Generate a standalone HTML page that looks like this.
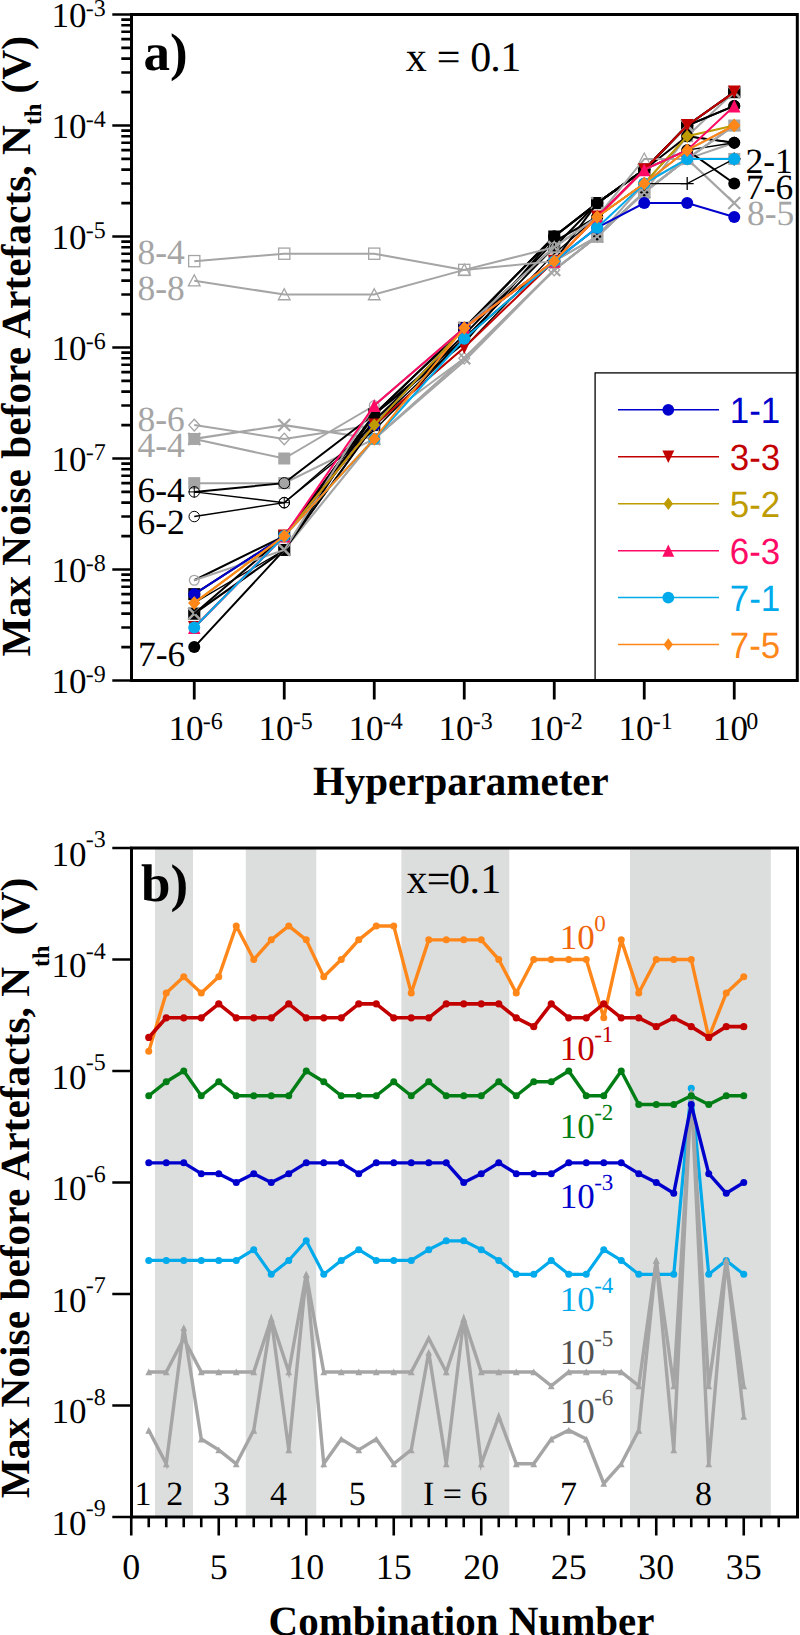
<!DOCTYPE html><html><head><meta charset="utf-8"><title>Max Noise before Artefacts</title>
<style>html,body{margin:0;padding:0;background:#fff;}svg{display:block;}</style></head><body>
<svg width="800" height="1635" viewBox="0 0 800 1635" text-rendering="geometricPrecision">
<rect width="800" height="1635" fill="#fff"/>
<g id="panel-a">
<defs><clipPath id="ca"><rect x="131.5" y="14.5" width="665.8" height="666.0"/></clipPath>
<clipPath id="cb"><rect x="131.5" y="848.0" width="666.0" height="669.0"/></clipPath></defs>
<g clip-path="url(#ca)">
<polyline points="194.25,438.95 284.25,458.5 374.25,405.54 464.25,327.95 554.25,261.13 597.19,236.5 644.25,192.33 687.19,158.91 734.25,125.5" fill="none" stroke="#a5a5a5" stroke-width="2.0" />
<rect x="188.25" y="432.95" width="12" height="12" fill="#a5a5a5"/>
<rect x="278.25" y="452.5" width="12" height="12" fill="#a5a5a5"/>
<rect x="458.25" y="321.95" width="12" height="12" fill="#a5a5a5"/>
<rect x="548.25" y="255.13" width="12" height="12" fill="#a5a5a5"/>
<rect x="591.19" y="230.5" width="12" height="12" fill="#a5a5a5"/>
<rect x="638.25" y="186.33" width="12" height="12" fill="#a5a5a5"/>
<rect x="681.19" y="152.91" width="12" height="12" fill="#a5a5a5"/>
<rect x="728.25" y="119.5" width="12" height="12" fill="#a5a5a5"/>
<polyline points="194.25,483.13 284.25,483.13 374.25,438.95 464.25,361.37 554.25,269.91 597.19,236.5 644.25,192.33 687.19,136.26 734.25,92.09" fill="none" stroke="#a5a5a5" stroke-width="2.0" />
<rect x="188.25" y="477.13" width="12" height="12" fill="#a5a5a5"/>
<rect x="278.25" y="477.13" width="12" height="12" fill="#a5a5a5"/>
<rect x="368.25" y="432.95" width="12" height="12" fill="#a5a5a5"/>
<rect x="591.19" y="230.5" width="12" height="12" fill="#a5a5a5"/>
<rect x="638.25" y="186.33" width="12" height="12" fill="#a5a5a5"/>
<rect x="681.19" y="130.26" width="12" height="12" fill="#a5a5a5"/>
<rect x="728.25" y="86.09" width="12" height="12" fill="#a5a5a5"/>
<polyline points="194.25,425.09 284.25,438.95 374.25,425.09 464.25,358.26 554.25,269.91 597.19,236.5 644.25,192.33 687.19,158.91 734.25,142.69" fill="none" stroke="#a5a5a5" stroke-width="2.0" />
<path d="M194.25 419.24L199.63 425.09L194.25 430.94L188.87 425.09Z" fill="none" stroke="#a5a5a5" stroke-width="1.3"/>
<path d="M284.25 433.1L289.63 438.95L284.25 444.8L278.87 438.95Z" fill="none" stroke="#a5a5a5" stroke-width="1.3"/>
<path d="M374.25 419.24L379.63 425.09L374.25 430.94L368.87 425.09Z" fill="none" stroke="#a5a5a5" stroke-width="1.3"/>
<path d="M464.25 352.41L469.63 358.26L464.25 364.11L458.87 358.26Z" fill="none" stroke="#a5a5a5" stroke-width="1.3"/>
<path d="M554.25 264.06L559.63 269.91L554.25 275.76L548.87 269.91Z" fill="none" stroke="#a5a5a5" stroke-width="1.3"/>
<path d="M597.19 230.65L602.57 236.5L597.19 242.35L591.81 236.5Z" fill="none" stroke="#a5a5a5" stroke-width="1.3"/>
<path d="M644.25 186.48L649.63 192.33L644.25 198.18L638.87 192.33Z" fill="none" stroke="#a5a5a5" stroke-width="1.3"/>
<path d="M687.19 153.06L692.57 158.91L687.19 164.76L681.81 158.91Z" fill="none" stroke="#a5a5a5" stroke-width="1.3"/>
<path d="M734.25 136.84L739.63 142.69L734.25 148.54L728.87 142.69Z" fill="none" stroke="#a5a5a5" stroke-width="1.3"/>
<polyline points="194.25,438.95 284.25,425.09 374.25,438.95 464.25,358.26 554.25,269.91 597.19,236.5 644.25,192.33 687.19,158.91 734.25,203.09" fill="none" stroke="#a5a5a5" stroke-width="2.2" />
<path d="M188.25 432.95L200.25 444.95M200.25 432.95L188.25 444.95" stroke="#a5a5a5" stroke-width="2.2"/>
<path d="M278.25 419.09L290.25 431.09M290.25 419.09L278.25 431.09" stroke="#a5a5a5" stroke-width="2.2"/>
<path d="M368.25 432.95L380.25 444.95M380.25 432.95L368.25 444.95" stroke="#a5a5a5" stroke-width="2.2"/>
<path d="M458.25 352.26L470.25 364.26M470.25 352.26L458.25 364.26" stroke="#a5a5a5" stroke-width="2.2"/>
<path d="M548.25 263.91L560.25 275.91M560.25 263.91L548.25 275.91" stroke="#a5a5a5" stroke-width="2.2"/>
<path d="M591.19 230.5L603.19 242.5M603.19 230.5L591.19 242.5" stroke="#a5a5a5" stroke-width="2.2"/>
<path d="M638.25 186.33L650.25 198.33M650.25 186.33L638.25 198.33" stroke="#a5a5a5" stroke-width="2.2"/>
<path d="M681.19 152.91L693.19 164.91M693.19 152.91L681.19 164.91" stroke="#a5a5a5" stroke-width="2.2"/>
<path d="M728.25 197.09L740.25 209.09M740.25 197.09L728.25 209.09" stroke="#a5a5a5" stroke-width="2.2"/>
<polyline points="194.25,613.67 284.25,549.95 374.25,438.95 464.25,358.26 554.25,269.91 597.19,236.5 644.25,192.33 687.19,158.91 734.25,158.91" fill="none" stroke="#a5a5a5" stroke-width="2.2" />
<rect x="188.25" y="607.67" width="12" height="12" fill="#a5a5a5"/>
<circle cx="191.45" cy="613.67" r="1.2" fill="#000"/>
<circle cx="197.05" cy="613.67" r="1.2" fill="#000"/>
<circle cx="194.25" cy="610.87" r="1.2" fill="#000"/>
<circle cx="194.25" cy="616.47" r="1.2" fill="#000"/>
<rect x="278.25" y="543.95" width="12" height="12" fill="#a5a5a5"/>
<circle cx="281.45" cy="549.95" r="1.2" fill="#000"/>
<circle cx="287.05" cy="549.95" r="1.2" fill="#000"/>
<circle cx="284.25" cy="547.15" r="1.2" fill="#000"/>
<circle cx="284.25" cy="552.75" r="1.2" fill="#000"/>
<rect x="591.19" y="230.5" width="12" height="12" fill="#a5a5a5"/>
<circle cx="594.39" cy="236.5" r="1.2" fill="#000"/>
<circle cx="599.99" cy="236.5" r="1.2" fill="#000"/>
<circle cx="597.19" cy="233.7" r="1.2" fill="#000"/>
<circle cx="597.19" cy="239.3" r="1.2" fill="#000"/>
<rect x="638.25" y="186.33" width="12" height="12" fill="#a5a5a5"/>
<circle cx="641.45" cy="192.33" r="1.2" fill="#000"/>
<circle cx="647.05" cy="192.33" r="1.2" fill="#000"/>
<circle cx="644.25" cy="189.53" r="1.2" fill="#000"/>
<circle cx="644.25" cy="195.13" r="1.2" fill="#000"/>
<rect x="681.19" y="152.91" width="12" height="12" fill="#a5a5a5"/>
<circle cx="684.39" cy="158.91" r="1.2" fill="#000"/>
<circle cx="689.99" cy="158.91" r="1.2" fill="#000"/>
<circle cx="687.19" cy="156.11" r="1.2" fill="#000"/>
<circle cx="687.19" cy="161.71" r="1.2" fill="#000"/>
<rect x="728.25" y="152.91" width="12" height="12" fill="#a5a5a5"/>
<circle cx="731.45" cy="158.91" r="1.2" fill="#000"/>
<circle cx="737.05" cy="158.91" r="1.2" fill="#000"/>
<circle cx="734.25" cy="156.11" r="1.2" fill="#000"/>
<circle cx="734.25" cy="161.71" r="1.2" fill="#000"/>
<polyline points="194.25,491.91 284.25,483.13 374.25,414.33 464.25,327.95 554.25,236.5 597.19,203.09 644.25,169.67 687.19,125.5 734.25,105.95" fill="none" stroke="#000" stroke-width="2.0" />
<circle cx="284.25" cy="483.13" r="5.5" fill="#a5a5a5" stroke="#000" stroke-width="1"/>
<circle cx="374.25" cy="414.33" r="5.5" fill="#a5a5a5" stroke="#000" stroke-width="1"/>
<circle cx="464.25" cy="327.95" r="5.5" fill="#a5a5a5" stroke="#000" stroke-width="1"/>
<circle cx="554.25" cy="236.5" r="5.5" fill="#a5a5a5" stroke="#000" stroke-width="1"/>
<circle cx="597.19" cy="203.09" r="5.5" fill="#a5a5a5" stroke="#000" stroke-width="1"/>
<circle cx="644.25" cy="169.67" r="5.5" fill="#a5a5a5" stroke="#000" stroke-width="1"/>
<circle cx="687.19" cy="125.5" r="5.5" fill="#a5a5a5" stroke="#000" stroke-width="1"/>
<circle cx="734.25" cy="105.95" r="5.5" fill="#a5a5a5" stroke="#000" stroke-width="1"/>
<polyline points="194.25,580.26 284.25,536.09 374.25,414.33 464.25,342.91 554.25,236.5 597.19,203.09 644.25,169.67 687.19,125.5 734.25,105.95" fill="none" stroke="#000" stroke-width="2.0" />
<circle cx="284.25" cy="536.09" r="6" fill="#000"/>
<circle cx="554.25" cy="236.5" r="6" fill="#000"/>
<circle cx="597.19" cy="203.09" r="6" fill="#000"/>
<circle cx="644.25" cy="169.67" r="6" fill="#000"/>
<circle cx="687.19" cy="125.5" r="6" fill="#000"/>
<circle cx="734.25" cy="105.95" r="6" fill="#000"/>
<polyline points="194.25,594.13 284.25,536.09 374.25,414.33 464.25,327.95 554.25,236.5 597.19,203.09 644.25,169.67 687.19,125.5 734.25,92.09" fill="none" stroke="#000" stroke-width="2.0" />
<rect x="188.25" y="588.13" width="12" height="12" fill="#000"/>
<rect x="278.25" y="530.09" width="12" height="12" fill="#000"/>
<rect x="368.25" y="408.33" width="12" height="12" fill="#000"/>
<rect x="458.25" y="321.95" width="12" height="12" fill="#000"/>
<rect x="548.25" y="230.5" width="12" height="12" fill="#000"/>
<rect x="591.19" y="197.09" width="12" height="12" fill="#000"/>
<rect x="638.25" y="163.67" width="12" height="12" fill="#000"/>
<rect x="681.19" y="119.5" width="12" height="12" fill="#000"/>
<rect x="728.25" y="86.09" width="12" height="12" fill="#000"/>
<polyline points="194.25,613.67 284.25,549.95 374.25,425.09 464.25,327.95 554.25,247.26 597.19,203.09 644.25,169.67 687.19,125.5 734.25,92.09" fill="none" stroke="#000" stroke-width="2.0" />
<rect x="188.25" y="607.67" width="12" height="12" fill="#000"/>
<path d="M188.25 607.67L200.25 619.67M200.25 607.67L188.25 619.67" stroke="#a5a5a5" stroke-width="2.6"/>
<rect x="278.25" y="543.95" width="12" height="12" fill="#000"/>
<path d="M278.25 543.95L290.25 555.95M290.25 543.95L278.25 555.95" stroke="#a5a5a5" stroke-width="2.6"/>
<rect x="368.25" y="419.09" width="12" height="12" fill="#000"/>
<path d="M368.25 419.09L380.25 431.09M380.25 419.09L368.25 431.09" stroke="#a5a5a5" stroke-width="2.6"/>
<rect x="458.25" y="321.95" width="12" height="12" fill="#000"/>
<path d="M458.25 321.95L470.25 333.95M470.25 321.95L458.25 333.95" stroke="#a5a5a5" stroke-width="2.6"/>
<rect x="548.25" y="241.26" width="12" height="12" fill="#000"/>
<path d="M548.25 241.26L560.25 253.26M560.25 241.26L548.25 253.26" stroke="#a5a5a5" stroke-width="2.6"/>
<rect x="591.19" y="197.09" width="12" height="12" fill="#000"/>
<path d="M591.19 197.09L603.19 209.09M603.19 197.09L591.19 209.09" stroke="#a5a5a5" stroke-width="2.6"/>
<rect x="638.25" y="163.67" width="12" height="12" fill="#000"/>
<path d="M638.25 163.67L650.25 175.67M650.25 163.67L638.25 175.67" stroke="#a5a5a5" stroke-width="2.6"/>
<rect x="681.19" y="119.5" width="12" height="12" fill="#000"/>
<path d="M681.19 119.5L693.19 131.5M693.19 119.5L681.19 131.5" stroke="#a5a5a5" stroke-width="2.6"/>
<rect x="728.25" y="86.09" width="12" height="12" fill="#000"/>
<path d="M728.25 86.09L740.25 98.09M740.25 86.09L728.25 98.09" stroke="#a5a5a5" stroke-width="2.6"/>
<polyline points="194.25,516.54 284.25,502.67 374.25,430.16 464.25,338.71 554.25,247.26 597.19,216.95 644.25,183.54 687.19,136.26 734.25,142.69" fill="none" stroke="#000" stroke-width="1.4" />
<circle cx="194.25" cy="516.54" r="5.25" fill="none" stroke="#000" stroke-width="1.0"/>
<circle cx="284.25" cy="502.67" r="5.25" fill="none" stroke="#000" stroke-width="1.0"/>
<circle cx="374.25" cy="430.16" r="5.25" fill="none" stroke="#000" stroke-width="1.0"/>
<circle cx="464.25" cy="338.71" r="5.25" fill="none" stroke="#000" stroke-width="1.0"/>
<circle cx="554.25" cy="247.26" r="5.25" fill="none" stroke="#000" stroke-width="1.0"/>
<circle cx="597.19" cy="216.95" r="5.25" fill="none" stroke="#000" stroke-width="1.0"/>
<circle cx="644.25" cy="183.54" r="5.25" fill="none" stroke="#000" stroke-width="1.0"/>
<circle cx="687.19" cy="136.26" r="5.25" fill="none" stroke="#000" stroke-width="1.0"/>
<circle cx="734.25" cy="142.69" r="5.25" fill="none" stroke="#000" stroke-width="1.0"/>
<polyline points="194.25,491.91 284.25,502.67 374.25,425.09 464.25,338.71 554.25,247.26 597.19,216.95 644.25,183.54 687.19,150.13 734.25,142.69" fill="none" stroke="#000" stroke-width="1.4" />
<circle cx="194.25" cy="491.91" r="5.25" fill="none" stroke="#000" stroke-width="1.0"/>
<path d="M188.5 491.91H200M194.25 486.16V497.66" stroke="#000" stroke-width="1.0"/>
<circle cx="284.25" cy="502.67" r="5.25" fill="none" stroke="#000" stroke-width="1.0"/>
<path d="M278.5 502.67H290M284.25 496.92V508.42" stroke="#000" stroke-width="1.0"/>
<circle cx="374.25" cy="425.09" r="5.25" fill="none" stroke="#000" stroke-width="1.0"/>
<path d="M368.5 425.09H380M374.25 419.34V430.84" stroke="#000" stroke-width="1.0"/>
<circle cx="464.25" cy="338.71" r="5.25" fill="none" stroke="#000" stroke-width="1.0"/>
<path d="M458.5 338.71H470M464.25 332.96V344.46" stroke="#000" stroke-width="1.0"/>
<circle cx="554.25" cy="247.26" r="5.25" fill="none" stroke="#000" stroke-width="1.0"/>
<path d="M548.5 247.26H560M554.25 241.51V253.01" stroke="#000" stroke-width="1.0"/>
<circle cx="597.19" cy="216.95" r="5.25" fill="none" stroke="#000" stroke-width="1.0"/>
<path d="M591.44 216.95H602.94M597.19 211.2V222.7" stroke="#000" stroke-width="1.0"/>
<circle cx="644.25" cy="183.54" r="5.25" fill="none" stroke="#000" stroke-width="1.0"/>
<path d="M638.5 183.54H650M644.25 177.79V189.29" stroke="#000" stroke-width="1.0"/>
<circle cx="687.19" cy="150.13" r="5.25" fill="none" stroke="#000" stroke-width="1.0"/>
<path d="M681.44 150.13H692.94M687.19 144.38V155.88" stroke="#000" stroke-width="1.0"/>
<circle cx="734.25" cy="142.69" r="5.25" fill="none" stroke="#000" stroke-width="1.0"/>
<path d="M728.5 142.69H740M734.25 136.94V148.44" stroke="#000" stroke-width="1.0"/>
<polyline points="194.25,602.91 284.25,549.95 374.25,425.09 464.25,347.5 554.25,253.69 597.19,216.95 644.25,183.54 687.19,183.54 734.25,158.91" fill="none" stroke="#000" stroke-width="1.3" />
<path d="M680.69 183.54H693.69M687.19 177.04V190.04" stroke="#000" stroke-width="1.3"/>
<path d="M727.75 158.91H740.75M734.25 152.41V165.41" stroke="#000" stroke-width="1.3"/>
<polyline points="194.25,613.67 284.25,536.09 374.25,420.49 464.25,334.85 554.25,241.58 597.19,216.95 644.25,169.67 687.19,136.26 734.25,142.69" fill="none" stroke="#000" stroke-width="2.0" />
<circle cx="597.19" cy="216.95" r="6" fill="#000"/>
<circle cx="644.25" cy="169.67" r="6" fill="#000"/>
<circle cx="687.19" cy="136.26" r="6" fill="#000"/>
<circle cx="734.25" cy="142.69" r="6" fill="#000"/>
<polyline points="194.25,647.09 284.25,549.95 374.25,414.33 464.25,338.71 554.25,261.13 597.19,203.09 644.25,169.67 687.19,150.13 734.25,183.54" fill="none" stroke="#000" stroke-width="2.0" />
<circle cx="194.25" cy="647.09" r="6" fill="#000"/>
<circle cx="464.25" cy="338.71" r="6" fill="#000"/>
<circle cx="554.25" cy="261.13" r="6" fill="#000"/>
<circle cx="597.19" cy="203.09" r="6" fill="#000"/>
<circle cx="644.25" cy="169.67" r="6" fill="#000"/>
<circle cx="687.19" cy="150.13" r="6" fill="#000"/>
<circle cx="734.25" cy="183.54" r="6" fill="#000"/>
<polyline points="194.25,580.26 284.25,549.95 374.25,405.54 464.25,327.95 554.25,247.26 597.19,216.95 644.25,169.67 687.19,150.13 734.25,125.5" fill="none" stroke="#a5a5a5" stroke-width="2.0" />
<circle cx="194.25" cy="580.26" r="4.85" fill="none" stroke="#a5a5a5" stroke-width="1.3"/>
<circle cx="374.25" cy="405.54" r="4.85" fill="none" stroke="#a5a5a5" stroke-width="1.3"/>
<circle cx="464.25" cy="327.95" r="4.85" fill="none" stroke="#a5a5a5" stroke-width="1.3"/>
<circle cx="554.25" cy="247.26" r="4.85" fill="none" stroke="#a5a5a5" stroke-width="1.3"/>
<polyline points="194.25,261.13 284.25,253.69 374.25,253.69 464.25,269.91 554.25,261.13 597.19,236.5 644.25,183.54 687.19,158.91 734.25,125.5" fill="none" stroke="#a5a5a5" stroke-width="2.0" />
<rect x="188.65" y="255.53" width="11.2" height="11.2" fill="none" stroke="#a5a5a5" stroke-width="1.3"/>
<rect x="278.65" y="248.09" width="11.2" height="11.2" fill="none" stroke="#a5a5a5" stroke-width="1.3"/>
<rect x="368.65" y="248.09" width="11.2" height="11.2" fill="none" stroke="#a5a5a5" stroke-width="1.3"/>
<rect x="458.65" y="264.31" width="11.2" height="11.2" fill="none" stroke="#a5a5a5" stroke-width="1.3"/>
<rect x="548.65" y="255.53" width="11.2" height="11.2" fill="none" stroke="#a5a5a5" stroke-width="1.3"/>
<polyline points="194.25,280.67 284.25,294.54 374.25,294.54 464.25,269.91 554.25,247.26 597.19,216.95 644.25,158.91 687.19,158.91 734.25,125.5" fill="none" stroke="#a5a5a5" stroke-width="2.0" />
<path d="M194.25 274.82L200.1 285.87L188.4 285.87Z" fill="none" stroke="#a5a5a5" stroke-width="1.3"/>
<path d="M284.25 288.69L290.1 299.74L278.4 299.74Z" fill="none" stroke="#a5a5a5" stroke-width="1.3"/>
<path d="M374.25 288.69L380.1 299.74L368.4 299.74Z" fill="none" stroke="#a5a5a5" stroke-width="1.3"/>
<path d="M464.25 264.06L470.1 275.11L458.4 275.11Z" fill="none" stroke="#a5a5a5" stroke-width="1.3"/>
<path d="M554.25 241.41L560.1 252.46L548.4 252.46Z" fill="none" stroke="#a5a5a5" stroke-width="1.3"/>
<path d="M597.19 211.1L603.04 222.15L591.34 222.15Z" fill="none" stroke="#a5a5a5" stroke-width="1.3"/>
<path d="M644.25 153.06L650.1 164.11L638.4 164.11Z" fill="none" stroke="#a5a5a5" stroke-width="1.3"/>
<path d="M687.19 153.06L693.04 164.11L681.34 164.11Z" fill="none" stroke="#a5a5a5" stroke-width="1.3"/>
<path d="M734.25 119.65L740.1 130.7L728.4 130.7Z" fill="none" stroke="#a5a5a5" stroke-width="1.3"/>
<polyline points="194.25,594.13 284.25,536.09 374.25,425.09 464.25,327.95 554.25,261.13 597.19,227.71 644.25,203.09 687.19,203.09 734.25,216.95" fill="none" stroke="#0000cd" stroke-width="2.0" />
<circle cx="194.25" cy="594.13" r="6" fill="#0000cd"/>
<circle cx="284.25" cy="536.09" r="6" fill="#0000cd"/>
<circle cx="374.25" cy="425.09" r="6" fill="#0000cd"/>
<circle cx="464.25" cy="327.95" r="6" fill="#0000cd"/>
<circle cx="554.25" cy="261.13" r="6" fill="#0000cd"/>
<circle cx="597.19" cy="227.71" r="6" fill="#0000cd"/>
<circle cx="644.25" cy="203.09" r="6" fill="#0000cd"/>
<circle cx="687.19" cy="203.09" r="6" fill="#0000cd"/>
<circle cx="734.25" cy="216.95" r="6" fill="#0000cd"/>
<polyline points="194.25,627.54 284.25,536.09 374.25,425.09 464.25,347.5 554.25,261.13 597.19,216.95 644.25,169.67 687.19,125.5 734.25,92.09" fill="none" stroke="#c30000" stroke-width="2.0" />
<path d="M194.25 634.04L200.49 621.04L188.01 621.04Z" fill="#c30000"/>
<path d="M284.25 542.59L290.49 529.59L278.01 529.59Z" fill="#c30000"/>
<path d="M374.25 431.59L380.49 418.59L368.01 418.59Z" fill="#c30000"/>
<path d="M464.25 354L470.49 341L458.01 341Z" fill="#c30000"/>
<path d="M554.25 267.63L560.49 254.63L548.01 254.63Z" fill="#c30000"/>
<path d="M597.19 223.45L603.43 210.45L590.95 210.45Z" fill="#c30000"/>
<path d="M644.25 176.17L650.49 163.17L638.01 163.17Z" fill="#c30000"/>
<path d="M687.19 132L693.43 119L680.95 119Z" fill="#c30000"/>
<path d="M734.25 98.59L740.49 85.59L728.01 85.59Z" fill="#c30000"/>
<polyline points="194.25,602.91 284.25,536.09 374.25,425.09 464.25,327.95 554.25,261.13 597.19,216.95 644.25,183.54 687.19,136.26 734.25,125.5" fill="none" stroke="#be9b00" stroke-width="2.0" />
<path d="M194.25 596.41L200.1 602.91L194.25 609.41L188.4 602.91Z" fill="#be9b00"/>
<path d="M284.25 529.59L290.1 536.09L284.25 542.59L278.4 536.09Z" fill="#be9b00"/>
<path d="M374.25 418.59L380.1 425.09L374.25 431.59L368.4 425.09Z" fill="#be9b00"/>
<path d="M464.25 321.45L470.1 327.95L464.25 334.45L458.4 327.95Z" fill="#be9b00"/>
<path d="M554.25 254.63L560.1 261.13L554.25 267.63L548.4 261.13Z" fill="#be9b00"/>
<path d="M597.19 210.45L603.04 216.95L597.19 223.45L591.34 216.95Z" fill="#be9b00"/>
<path d="M644.25 177.04L650.1 183.54L644.25 190.04L638.4 183.54Z" fill="#be9b00"/>
<path d="M687.19 129.76L693.04 136.26L687.19 142.76L681.34 136.26Z" fill="#be9b00"/>
<path d="M734.25 119L740.1 125.5L734.25 132L728.4 125.5Z" fill="#be9b00"/>
<polyline points="194.25,627.54 284.25,536.09 374.25,405.54 464.25,327.95 554.25,261.13 597.19,216.95 644.25,169.67 687.19,150.13 734.25,105.95" fill="none" stroke="#ff0a64" stroke-width="2.0" />
<path d="M194.25 621.04L200.49 634.04L188.01 634.04Z" fill="#ff0a64"/>
<path d="M284.25 529.59L290.49 542.59L278.01 542.59Z" fill="#ff0a64"/>
<path d="M374.25 399.04L380.49 412.04L368.01 412.04Z" fill="#ff0a64"/>
<path d="M464.25 321.45L470.49 334.45L458.01 334.45Z" fill="#ff0a64"/>
<path d="M554.25 254.63L560.49 267.63L548.01 267.63Z" fill="#ff0a64"/>
<path d="M597.19 210.45L603.43 223.45L590.95 223.45Z" fill="#ff0a64"/>
<path d="M644.25 163.17L650.49 176.17L638.01 176.17Z" fill="#ff0a64"/>
<path d="M687.19 143.63L693.43 156.63L680.95 156.63Z" fill="#ff0a64"/>
<path d="M734.25 99.45L740.49 112.45L728.01 112.45Z" fill="#ff0a64"/>
<polyline points="194.25,627.54 284.25,536.09 374.25,438.95 464.25,338.71 554.25,261.13 597.19,227.71 644.25,183.54 687.19,158.91 734.25,158.91" fill="none" stroke="#00aaeb" stroke-width="2.0" />
<circle cx="194.25" cy="627.54" r="6" fill="#00aaeb"/>
<circle cx="284.25" cy="536.09" r="6" fill="#00aaeb"/>
<circle cx="374.25" cy="438.95" r="6" fill="#00aaeb"/>
<circle cx="464.25" cy="338.71" r="6" fill="#00aaeb"/>
<circle cx="554.25" cy="261.13" r="6" fill="#00aaeb"/>
<circle cx="597.19" cy="227.71" r="6" fill="#00aaeb"/>
<circle cx="644.25" cy="183.54" r="6" fill="#00aaeb"/>
<circle cx="687.19" cy="158.91" r="6" fill="#00aaeb"/>
<circle cx="734.25" cy="158.91" r="6" fill="#00aaeb"/>
<polyline points="194.25,602.91 284.25,536.09 374.25,438.95 464.25,327.95 554.25,261.13 597.19,216.95 644.25,183.54 687.19,150.13 734.25,125.5" fill="none" stroke="#ff8719" stroke-width="2.0" />
<path d="M194.25 596.16L200.32 602.91L194.25 609.66L188.18 602.91Z" fill="#ff8719"/>
<path d="M284.25 529.34L290.32 536.09L284.25 542.84L278.18 536.09Z" fill="#ff8719"/>
<path d="M374.25 432.2L380.32 438.95L374.25 445.7L368.18 438.95Z" fill="#ff8719"/>
<path d="M464.25 321.2L470.32 327.95L464.25 334.7L458.18 327.95Z" fill="#ff8719"/>
<path d="M554.25 254.38L560.33 261.13L554.25 267.88L548.17 261.13Z" fill="#ff8719"/>
<path d="M597.19 210.2L603.27 216.95L597.19 223.7L591.12 216.95Z" fill="#ff8719"/>
<path d="M644.25 176.79L650.33 183.54L644.25 190.29L638.17 183.54Z" fill="#ff8719"/>
<path d="M687.19 143.38L693.27 150.13L687.19 156.88L681.12 150.13Z" fill="#ff8719"/>
<path d="M734.25 118.75L740.33 125.5L734.25 132.25L728.17 125.5Z" fill="#ff8719"/>
</g>
<text x="137.5" y="263.6" font-family="'Liberation Serif', 'Times New Roman', serif" font-size="35.5" fill="#a5a5a5" text-anchor="start" font-weight="normal" >8-4</text>
<text x="137.5" y="299.5" font-family="'Liberation Serif', 'Times New Roman', serif" font-size="35.5" fill="#a5a5a5" text-anchor="start" font-weight="normal" >8-8</text>
<text x="137.5" y="431" font-family="'Liberation Serif', 'Times New Roman', serif" font-size="35.5" fill="#a5a5a5" text-anchor="start" font-weight="normal" >8-6</text>
<text x="137.5" y="457.3" font-family="'Liberation Serif', 'Times New Roman', serif" font-size="35.5" fill="#a5a5a5" text-anchor="start" font-weight="normal" >4-4</text>
<text x="137.5" y="501.5" font-family="'Liberation Serif', 'Times New Roman', serif" font-size="35.5" fill="#000" text-anchor="start" font-weight="normal" >6-4</text>
<text x="137.5" y="533.9" font-family="'Liberation Serif', 'Times New Roman', serif" font-size="35.5" fill="#000" text-anchor="start" font-weight="normal" >6-2</text>
<text x="138" y="666.3" font-family="'Liberation Serif', 'Times New Roman', serif" font-size="35.5" fill="#000" text-anchor="start" font-weight="normal" >7-6</text>
<text x="745.5" y="172.5" font-family="'Liberation Serif', 'Times New Roman', serif" font-size="35.5" fill="#000" text-anchor="start" font-weight="normal" >2-1</text>
<text x="746" y="199" font-family="'Liberation Serif', 'Times New Roman', serif" font-size="35.5" fill="#000" text-anchor="start" font-weight="normal" >7-6</text>
<text x="747" y="225" font-family="'Liberation Serif', 'Times New Roman', serif" font-size="35.5" fill="#a5a5a5" text-anchor="start" font-weight="normal" >8-5</text>
<rect x="595.1" y="372.9" width="202.19999999999993" height="307.6" fill="white" stroke="#000" stroke-width="1.3"/>
<line x1="618" y1="409.8" x2="719" y2="409.8" stroke="#0000cd" stroke-width="1.5"/>
<circle cx="668.3" cy="409.8" r="5.9" fill="#0000cd"/>
<text transform="translate(729.7,422.9) scale(0.955,1)" font-family="'Liberation Sans', Arial, sans-serif" font-size="36.6" fill="#0000cd">1-1</text>
<line x1="618" y1="456.75" x2="719" y2="456.75" stroke="#c30000" stroke-width="1.5"/>
<path d="M668.3 462.95L674.25 450.55L662.35 450.55Z" fill="#c30000"/>
<text transform="translate(729.7,469.85) scale(0.955,1)" font-family="'Liberation Sans', Arial, sans-serif" font-size="36.6" fill="#c30000">3-3</text>
<line x1="618" y1="503.7" x2="719" y2="503.7" stroke="#be9b00" stroke-width="1.5"/>
<path d="M668.3 497.5L673.01 503.7L668.3 509.9L663.59 503.7Z" fill="#be9b00"/>
<text transform="translate(729.7,516.8) scale(0.955,1)" font-family="'Liberation Sans', Arial, sans-serif" font-size="36.6" fill="#be9b00">5-2</text>
<line x1="618" y1="550.65" x2="719" y2="550.65" stroke="#ff0a64" stroke-width="1.5"/>
<path d="M668.3 544.45L674.25 556.85L662.35 556.85Z" fill="#ff0a64"/>
<text transform="translate(729.7,563.75) scale(0.955,1)" font-family="'Liberation Sans', Arial, sans-serif" font-size="36.6" fill="#ff0a64">6-3</text>
<line x1="618" y1="597.6" x2="719" y2="597.6" stroke="#00aaeb" stroke-width="1.5"/>
<circle cx="668.3" cy="597.6" r="5.9" fill="#00aaeb"/>
<text transform="translate(729.7,610.7) scale(0.955,1)" font-family="'Liberation Sans', Arial, sans-serif" font-size="36.6" fill="#00aaeb">7-1</text>
<line x1="618" y1="644.55" x2="719" y2="644.55" stroke="#ff8719" stroke-width="1.5"/>
<path d="M668.3 638.35L673.01 644.55L668.3 650.75L663.59 644.55Z" fill="#ff8719"/>
<text transform="translate(729.7,657.65) scale(0.955,1)" font-family="'Liberation Sans', Arial, sans-serif" font-size="36.6" fill="#ff8719">7-5</text>
<rect x="131.5" y="14.5" width="665.8" height="666.0" fill="none" stroke="#000" stroke-width="3"/>
<path d="M112.3 680.5H131.5 M121.3 647.09H131.5 M121.3 627.54H131.5 M121.3 613.67H131.5 M121.3 602.91H131.5 M121.3 594.13H131.5 M121.3 586.69H131.5 M121.3 580.26H131.5 M121.3 574.58H131.5 M112.3 569.5H131.5 M121.3 536.09H131.5 M121.3 516.54H131.5 M121.3 502.67H131.5 M121.3 491.91H131.5 M121.3 483.13H131.5 M121.3 475.69H131.5 M121.3 469.26H131.5 M121.3 463.58H131.5 M112.3 458.5H131.5 M121.3 425.09H131.5 M121.3 405.54H131.5 M121.3 391.67H131.5 M121.3 380.91H131.5 M121.3 372.13H131.5 M121.3 364.69H131.5 M121.3 358.26H131.5 M121.3 352.58H131.5 M112.3 347.5H131.5 M121.3 314.09H131.5 M121.3 294.54H131.5 M121.3 280.67H131.5 M121.3 269.91H131.5 M121.3 261.13H131.5 M121.3 253.69H131.5 M121.3 247.26H131.5 M121.3 241.58H131.5 M112.3 236.5H131.5 M121.3 203.09H131.5 M121.3 183.54H131.5 M121.3 169.67H131.5 M121.3 158.91H131.5 M121.3 150.13H131.5 M121.3 142.69H131.5 M121.3 136.26H131.5 M121.3 130.58H131.5 M112.3 125.5H131.5 M121.3 92.09H131.5 M121.3 72.54H131.5 M121.3 58.67H131.5 M121.3 47.91H131.5 M121.3 39.13H131.5 M121.3 31.69H131.5 M121.3 25.26H131.5 M121.3 19.58H131.5 M112.3 14.5H131.5" stroke="#000" stroke-width="2.6"/>
<path d="M194.25 680.5V699.5 M284.25 680.5V699.5 M374.25 680.5V699.5 M464.25 680.5V699.5 M554.25 680.5V699.5 M644.25 680.5V699.5 M734.25 680.5V699.5" stroke="#000" stroke-width="2.8"/>
<text x="51.5" y="692.7" font-family="'Liberation Serif', 'Times New Roman', serif" font-size="35" fill="#000" text-anchor="start" font-weight="normal" >10</text>
<text x="85.8" y="681.7" font-family="'Liberation Serif', 'Times New Roman', serif" font-size="24" fill="#000" text-anchor="start" font-weight="normal" >-9</text>
<text x="51.5" y="581.7" font-family="'Liberation Serif', 'Times New Roman', serif" font-size="35" fill="#000" text-anchor="start" font-weight="normal" >10</text>
<text x="85.8" y="570.7" font-family="'Liberation Serif', 'Times New Roman', serif" font-size="24" fill="#000" text-anchor="start" font-weight="normal" >-8</text>
<text x="51.5" y="470.7" font-family="'Liberation Serif', 'Times New Roman', serif" font-size="35" fill="#000" text-anchor="start" font-weight="normal" >10</text>
<text x="85.8" y="459.7" font-family="'Liberation Serif', 'Times New Roman', serif" font-size="24" fill="#000" text-anchor="start" font-weight="normal" >-7</text>
<text x="51.5" y="359.7" font-family="'Liberation Serif', 'Times New Roman', serif" font-size="35" fill="#000" text-anchor="start" font-weight="normal" >10</text>
<text x="85.8" y="348.7" font-family="'Liberation Serif', 'Times New Roman', serif" font-size="24" fill="#000" text-anchor="start" font-weight="normal" >-6</text>
<text x="51.5" y="248.7" font-family="'Liberation Serif', 'Times New Roman', serif" font-size="35" fill="#000" text-anchor="start" font-weight="normal" >10</text>
<text x="85.8" y="237.7" font-family="'Liberation Serif', 'Times New Roman', serif" font-size="24" fill="#000" text-anchor="start" font-weight="normal" >-5</text>
<text x="51.5" y="137.7" font-family="'Liberation Serif', 'Times New Roman', serif" font-size="35" fill="#000" text-anchor="start" font-weight="normal" >10</text>
<text x="85.8" y="126.7" font-family="'Liberation Serif', 'Times New Roman', serif" font-size="24" fill="#000" text-anchor="start" font-weight="normal" >-4</text>
<text x="51.5" y="26.7" font-family="'Liberation Serif', 'Times New Roman', serif" font-size="35" fill="#000" text-anchor="start" font-weight="normal" >10</text>
<text x="85.8" y="15.7" font-family="'Liberation Serif', 'Times New Roman', serif" font-size="24" fill="#000" text-anchor="start" font-weight="normal" >-3</text>
<text x="168.45" y="739.5" font-family="'Liberation Serif', 'Times New Roman', serif" font-size="35" fill="#000" text-anchor="start" font-weight="normal" >10</text>
<text x="202.75" y="729" font-family="'Liberation Serif', 'Times New Roman', serif" font-size="24" fill="#000" text-anchor="start" font-weight="normal" >-6</text>
<text x="258.45" y="739.5" font-family="'Liberation Serif', 'Times New Roman', serif" font-size="35" fill="#000" text-anchor="start" font-weight="normal" >10</text>
<text x="292.75" y="729" font-family="'Liberation Serif', 'Times New Roman', serif" font-size="24" fill="#000" text-anchor="start" font-weight="normal" >-5</text>
<text x="348.45" y="739.5" font-family="'Liberation Serif', 'Times New Roman', serif" font-size="35" fill="#000" text-anchor="start" font-weight="normal" >10</text>
<text x="382.75" y="729" font-family="'Liberation Serif', 'Times New Roman', serif" font-size="24" fill="#000" text-anchor="start" font-weight="normal" >-4</text>
<text x="438.45" y="739.5" font-family="'Liberation Serif', 'Times New Roman', serif" font-size="35" fill="#000" text-anchor="start" font-weight="normal" >10</text>
<text x="472.75" y="729" font-family="'Liberation Serif', 'Times New Roman', serif" font-size="24" fill="#000" text-anchor="start" font-weight="normal" >-3</text>
<text x="528.45" y="739.5" font-family="'Liberation Serif', 'Times New Roman', serif" font-size="35" fill="#000" text-anchor="start" font-weight="normal" >10</text>
<text x="562.75" y="729" font-family="'Liberation Serif', 'Times New Roman', serif" font-size="24" fill="#000" text-anchor="start" font-weight="normal" >-2</text>
<text x="618.45" y="739.5" font-family="'Liberation Serif', 'Times New Roman', serif" font-size="35" fill="#000" text-anchor="start" font-weight="normal" >10</text>
<text x="652.75" y="729" font-family="'Liberation Serif', 'Times New Roman', serif" font-size="24" fill="#000" text-anchor="start" font-weight="normal" >-1</text>
<text x="712.95" y="739.5" font-family="'Liberation Serif', 'Times New Roman', serif" font-size="35" fill="#000" text-anchor="start" font-weight="normal" >10</text>
<text x="746.25" y="729" font-family="'Liberation Serif', 'Times New Roman', serif" font-size="24" fill="#000" text-anchor="start" font-weight="normal" >0</text>
<text x="165.5" y="69.8" font-family="'Liberation Serif', 'Times New Roman', serif" font-size="53" fill="#000" text-anchor="middle" font-weight="bold" >a)</text>
<text x="405.8 436.65 470.2 490.35 500.15" y="70.5" font-family="'Liberation Serif', 'Times New Roman', serif" font-size="42" fill="#000">x=0.1</text>
<text transform="translate(460.8,795.3) scale(0.985,1)" text-anchor="middle" font-family="'Liberation Serif', 'Times New Roman', serif" font-size="41.6" font-weight="bold" fill="#000">Hyperparameter</text>
<text transform="translate(29.8,656.5) rotate(-90)" font-family="'Liberation Serif', 'Times New Roman', serif" font-size="41.4" font-weight="bold" fill="#000">Max Noise before Artefacts, N<tspan font-size="24" dy="11.6">th</tspan><tspan dy="-11.6"> (V)</tspan></text>
</g>
<g id="panel-b">
<rect x="155" y="848.0" width="38" height="669.0" fill="#dcdddd"/>
<rect x="245.8" y="848.0" width="70.5" height="669.0" fill="#dcdddd"/>
<rect x="401.4" y="848.0" width="107.9" height="669.0" fill="#dcdddd"/>
<rect x="630" y="848.0" width="140.8" height="669.0" fill="#dcdddd"/>
<g clip-path="url(#cb)">
<polyline points="148.75,1260.44 166.25,1260.44 183.75,1260.44 201.25,1260.44 218.75,1260.44 236.25,1260.44 253.75,1249.63 271.25,1274.37 288.75,1260.44 306.25,1240.8 323.75,1274.37 341.25,1260.44 358.75,1249.63 376.25,1260.44 393.75,1260.44 411.25,1260.44 428.75,1249.63 446.25,1240.8 463.75,1240.8 481.25,1249.63 498.75,1260.44 516.25,1274.37 533.75,1274.37 551.25,1260.44 568.75,1274.37 586.25,1274.37 603.75,1249.63 621.25,1260.44 638.75,1274.37 656.25,1274.37 673.75,1274.37 691.25,1088.27 708.75,1274.37 726.25,1260.44 743.75,1274.37" fill="none" stroke="#00aaeb" stroke-width="3.2" stroke-linejoin="round"/>
<circle cx="148.75" cy="1260.44" r="3.5" fill="#00aaeb"/>
<circle cx="166.25" cy="1260.44" r="3.5" fill="#00aaeb"/>
<circle cx="183.75" cy="1260.44" r="3.5" fill="#00aaeb"/>
<circle cx="201.25" cy="1260.44" r="3.5" fill="#00aaeb"/>
<circle cx="218.75" cy="1260.44" r="3.5" fill="#00aaeb"/>
<circle cx="236.25" cy="1260.44" r="3.5" fill="#00aaeb"/>
<circle cx="253.75" cy="1249.63" r="3.5" fill="#00aaeb"/>
<circle cx="271.25" cy="1274.37" r="3.5" fill="#00aaeb"/>
<circle cx="288.75" cy="1260.44" r="3.5" fill="#00aaeb"/>
<circle cx="306.25" cy="1240.8" r="3.5" fill="#00aaeb"/>
<circle cx="323.75" cy="1274.37" r="3.5" fill="#00aaeb"/>
<circle cx="341.25" cy="1260.44" r="3.5" fill="#00aaeb"/>
<circle cx="358.75" cy="1249.63" r="3.5" fill="#00aaeb"/>
<circle cx="376.25" cy="1260.44" r="3.5" fill="#00aaeb"/>
<circle cx="393.75" cy="1260.44" r="3.5" fill="#00aaeb"/>
<circle cx="411.25" cy="1260.44" r="3.5" fill="#00aaeb"/>
<circle cx="428.75" cy="1249.63" r="3.5" fill="#00aaeb"/>
<circle cx="446.25" cy="1240.8" r="3.5" fill="#00aaeb"/>
<circle cx="463.75" cy="1240.8" r="3.5" fill="#00aaeb"/>
<circle cx="481.25" cy="1249.63" r="3.5" fill="#00aaeb"/>
<circle cx="498.75" cy="1260.44" r="3.5" fill="#00aaeb"/>
<circle cx="516.25" cy="1274.37" r="3.5" fill="#00aaeb"/>
<circle cx="533.75" cy="1274.37" r="3.5" fill="#00aaeb"/>
<circle cx="551.25" cy="1260.44" r="3.5" fill="#00aaeb"/>
<circle cx="568.75" cy="1274.37" r="3.5" fill="#00aaeb"/>
<circle cx="586.25" cy="1274.37" r="3.5" fill="#00aaeb"/>
<circle cx="603.75" cy="1249.63" r="3.5" fill="#00aaeb"/>
<circle cx="621.25" cy="1260.44" r="3.5" fill="#00aaeb"/>
<circle cx="638.75" cy="1274.37" r="3.5" fill="#00aaeb"/>
<circle cx="656.25" cy="1274.37" r="3.5" fill="#00aaeb"/>
<circle cx="673.75" cy="1274.37" r="3.5" fill="#00aaeb"/>
<circle cx="691.25" cy="1088.27" r="3.5" fill="#00aaeb"/>
<circle cx="708.75" cy="1274.37" r="3.5" fill="#00aaeb"/>
<circle cx="726.25" cy="1260.44" r="3.5" fill="#00aaeb"/>
<circle cx="743.75" cy="1274.37" r="3.5" fill="#00aaeb"/>
<polyline points="148.75,1430.24 166.25,1463.8 183.75,1327.56 201.25,1439.06 218.75,1449.87 236.25,1463.8 253.75,1430.24 271.25,1318.74 288.75,1449.87 306.25,1274.37 323.75,1463.8 341.25,1439.06 358.75,1449.87 376.25,1439.06 393.75,1463.8 411.25,1449.87 428.75,1352.3 446.25,1463.8 463.75,1318.74 481.25,1463.8 498.75,1416.31 516.25,1463.8 533.75,1463.8 551.25,1439.06 568.75,1430.24 586.25,1439.06 603.75,1483.44 621.25,1463.8 638.75,1430.24 656.25,1260.44 673.75,1449.87 691.25,1091.86 708.75,1463.8 726.25,1260.44 743.75,1416.31" fill="none" stroke="#a5a5a5" stroke-width="3.4" stroke-miterlimit="5"/>
<path d="M148.75 1426.84L152.15 1433.64L145.35 1433.64Z" fill="#a5a5a5"/>
<path d="M166.25 1460.4L169.65 1467.2L162.85 1467.2Z" fill="#a5a5a5"/>
<path d="M183.75 1324.16L187.15 1330.96L180.35 1330.96Z" fill="#a5a5a5"/>
<path d="M201.25 1435.66L204.65 1442.46L197.85 1442.46Z" fill="#a5a5a5"/>
<path d="M218.75 1446.47L222.15 1453.27L215.35 1453.27Z" fill="#a5a5a5"/>
<path d="M236.25 1460.4L239.65 1467.2L232.85 1467.2Z" fill="#a5a5a5"/>
<path d="M253.75 1426.84L257.15 1433.64L250.35 1433.64Z" fill="#a5a5a5"/>
<path d="M271.25 1315.34L274.65 1322.14L267.85 1322.14Z" fill="#a5a5a5"/>
<path d="M288.75 1446.47L292.15 1453.27L285.35 1453.27Z" fill="#a5a5a5"/>
<path d="M306.25 1270.97L309.65 1277.77L302.85 1277.77Z" fill="#a5a5a5"/>
<path d="M323.75 1460.4L327.15 1467.2L320.35 1467.2Z" fill="#a5a5a5"/>
<path d="M341.25 1435.66L344.65 1442.46L337.85 1442.46Z" fill="#a5a5a5"/>
<path d="M358.75 1446.47L362.15 1453.27L355.35 1453.27Z" fill="#a5a5a5"/>
<path d="M376.25 1435.66L379.65 1442.46L372.85 1442.46Z" fill="#a5a5a5"/>
<path d="M393.75 1460.4L397.15 1467.2L390.35 1467.2Z" fill="#a5a5a5"/>
<path d="M411.25 1446.47L414.65 1453.27L407.85 1453.27Z" fill="#a5a5a5"/>
<path d="M428.75 1348.9L432.15 1355.7L425.35 1355.7Z" fill="#a5a5a5"/>
<path d="M446.25 1460.4L449.65 1467.2L442.85 1467.2Z" fill="#a5a5a5"/>
<path d="M463.75 1315.34L467.15 1322.14L460.35 1322.14Z" fill="#a5a5a5"/>
<path d="M481.25 1460.4L484.65 1467.2L477.85 1467.2Z" fill="#a5a5a5"/>
<path d="M498.75 1412.91L502.15 1419.71L495.35 1419.71Z" fill="#a5a5a5"/>
<path d="M516.25 1460.4L519.65 1467.2L512.85 1467.2Z" fill="#a5a5a5"/>
<path d="M533.75 1460.4L537.15 1467.2L530.35 1467.2Z" fill="#a5a5a5"/>
<path d="M551.25 1435.66L554.65 1442.46L547.85 1442.46Z" fill="#a5a5a5"/>
<path d="M568.75 1426.84L572.15 1433.64L565.35 1433.64Z" fill="#a5a5a5"/>
<path d="M586.25 1435.66L589.65 1442.46L582.85 1442.46Z" fill="#a5a5a5"/>
<path d="M603.75 1480.04L607.15 1486.84L600.35 1486.84Z" fill="#a5a5a5"/>
<path d="M621.25 1460.4L624.65 1467.2L617.85 1467.2Z" fill="#a5a5a5"/>
<path d="M638.75 1426.84L642.15 1433.64L635.35 1433.64Z" fill="#a5a5a5"/>
<path d="M656.25 1257.04L659.65 1263.84L652.85 1263.84Z" fill="#a5a5a5"/>
<path d="M673.75 1446.47L677.15 1453.27L670.35 1453.27Z" fill="#a5a5a5"/>
<path d="M691.25 1088.46L694.65 1095.26L687.85 1095.26Z" fill="#a5a5a5"/>
<path d="M708.75 1460.4L712.15 1467.2L705.35 1467.2Z" fill="#a5a5a5"/>
<path d="M726.25 1257.04L729.65 1263.84L722.85 1263.84Z" fill="#a5a5a5"/>
<path d="M743.75 1412.91L747.15 1419.71L740.35 1419.71Z" fill="#a5a5a5"/>
<polyline points="148.75,1371.94 166.25,1371.94 183.75,1338.37 201.25,1371.94 218.75,1371.94 236.25,1371.94 253.75,1371.94 271.25,1318.74 288.75,1371.94 306.25,1274.37 323.75,1371.94 341.25,1371.94 358.75,1371.94 376.25,1371.94 393.75,1371.94 411.25,1371.94 428.75,1338.37 446.25,1371.94 463.75,1318.74 481.25,1371.94 498.75,1371.94 516.25,1371.94 533.75,1371.94 551.25,1385.87 568.75,1371.94 586.25,1371.94 603.75,1371.94 621.25,1371.94 638.75,1385.87 656.25,1260.44 673.75,1385.87 691.25,1091.86 708.75,1385.87 726.25,1260.44 743.75,1385.87" fill="none" stroke="#a5a5a5" stroke-width="3.4" stroke-miterlimit="5"/>
<path d="M148.75 1368.54L152.15 1375.34L145.35 1375.34Z" fill="#a5a5a5"/>
<path d="M166.25 1368.54L169.65 1375.34L162.85 1375.34Z" fill="#a5a5a5"/>
<path d="M183.75 1334.97L187.15 1341.77L180.35 1341.77Z" fill="#a5a5a5"/>
<path d="M201.25 1368.54L204.65 1375.34L197.85 1375.34Z" fill="#a5a5a5"/>
<path d="M218.75 1368.54L222.15 1375.34L215.35 1375.34Z" fill="#a5a5a5"/>
<path d="M236.25 1368.54L239.65 1375.34L232.85 1375.34Z" fill="#a5a5a5"/>
<path d="M253.75 1368.54L257.15 1375.34L250.35 1375.34Z" fill="#a5a5a5"/>
<path d="M271.25 1315.34L274.65 1322.14L267.85 1322.14Z" fill="#a5a5a5"/>
<path d="M288.75 1368.54L292.15 1375.34L285.35 1375.34Z" fill="#a5a5a5"/>
<path d="M306.25 1270.97L309.65 1277.77L302.85 1277.77Z" fill="#a5a5a5"/>
<path d="M323.75 1368.54L327.15 1375.34L320.35 1375.34Z" fill="#a5a5a5"/>
<path d="M341.25 1368.54L344.65 1375.34L337.85 1375.34Z" fill="#a5a5a5"/>
<path d="M358.75 1368.54L362.15 1375.34L355.35 1375.34Z" fill="#a5a5a5"/>
<path d="M376.25 1368.54L379.65 1375.34L372.85 1375.34Z" fill="#a5a5a5"/>
<path d="M393.75 1368.54L397.15 1375.34L390.35 1375.34Z" fill="#a5a5a5"/>
<path d="M411.25 1368.54L414.65 1375.34L407.85 1375.34Z" fill="#a5a5a5"/>
<path d="M428.75 1334.97L432.15 1341.77L425.35 1341.77Z" fill="#a5a5a5"/>
<path d="M446.25 1368.54L449.65 1375.34L442.85 1375.34Z" fill="#a5a5a5"/>
<path d="M463.75 1315.34L467.15 1322.14L460.35 1322.14Z" fill="#a5a5a5"/>
<path d="M481.25 1368.54L484.65 1375.34L477.85 1375.34Z" fill="#a5a5a5"/>
<path d="M498.75 1368.54L502.15 1375.34L495.35 1375.34Z" fill="#a5a5a5"/>
<path d="M516.25 1368.54L519.65 1375.34L512.85 1375.34Z" fill="#a5a5a5"/>
<path d="M533.75 1368.54L537.15 1375.34L530.35 1375.34Z" fill="#a5a5a5"/>
<path d="M551.25 1382.47L554.65 1389.27L547.85 1389.27Z" fill="#a5a5a5"/>
<path d="M568.75 1368.54L572.15 1375.34L565.35 1375.34Z" fill="#a5a5a5"/>
<path d="M586.25 1368.54L589.65 1375.34L582.85 1375.34Z" fill="#a5a5a5"/>
<path d="M603.75 1368.54L607.15 1375.34L600.35 1375.34Z" fill="#a5a5a5"/>
<path d="M621.25 1368.54L624.65 1375.34L617.85 1375.34Z" fill="#a5a5a5"/>
<path d="M638.75 1382.47L642.15 1389.27L635.35 1389.27Z" fill="#a5a5a5"/>
<path d="M656.25 1257.04L659.65 1263.84L652.85 1263.84Z" fill="#a5a5a5"/>
<path d="M673.75 1382.47L677.15 1389.27L670.35 1389.27Z" fill="#a5a5a5"/>
<path d="M691.25 1088.46L694.65 1095.26L687.85 1095.26Z" fill="#a5a5a5"/>
<path d="M708.75 1382.47L712.15 1389.27L705.35 1389.27Z" fill="#a5a5a5"/>
<path d="M726.25 1257.04L729.65 1263.84L722.85 1263.84Z" fill="#a5a5a5"/>
<path d="M743.75 1382.47L747.15 1389.27L740.35 1389.27Z" fill="#a5a5a5"/>
<polyline points="148.75,1051.37 166.25,993.06 183.75,976.77 201.25,993.06 218.75,976.77 236.25,925.94 253.75,959.5 271.25,939.87 288.75,925.94 306.25,939.87 323.75,976.77 341.25,959.5 358.75,939.87 376.25,925.94 393.75,925.94 411.25,993.06 428.75,939.87 446.25,939.87 463.75,939.87 481.25,939.87 498.75,959.5 516.25,993.06 533.75,959.5 551.25,959.5 568.75,959.5 586.25,959.5 603.75,1017.8 621.25,939.87 638.75,993.06 656.25,959.5 673.75,959.5 691.25,959.5 708.75,1037.44 726.25,993.06 743.75,976.77" fill="none" stroke="#ff8719" stroke-width="3.4" stroke-linejoin="round"/>
<circle cx="148.75" cy="1051.37" r="3.5" fill="#ff8719"/>
<circle cx="166.25" cy="993.06" r="3.5" fill="#ff8719"/>
<circle cx="183.75" cy="976.77" r="3.5" fill="#ff8719"/>
<circle cx="201.25" cy="993.06" r="3.5" fill="#ff8719"/>
<circle cx="218.75" cy="976.77" r="3.5" fill="#ff8719"/>
<circle cx="236.25" cy="925.94" r="3.5" fill="#ff8719"/>
<circle cx="253.75" cy="959.5" r="3.5" fill="#ff8719"/>
<circle cx="271.25" cy="939.87" r="3.5" fill="#ff8719"/>
<circle cx="288.75" cy="925.94" r="3.5" fill="#ff8719"/>
<circle cx="306.25" cy="939.87" r="3.5" fill="#ff8719"/>
<circle cx="323.75" cy="976.77" r="3.5" fill="#ff8719"/>
<circle cx="341.25" cy="959.5" r="3.5" fill="#ff8719"/>
<circle cx="358.75" cy="939.87" r="3.5" fill="#ff8719"/>
<circle cx="376.25" cy="925.94" r="3.5" fill="#ff8719"/>
<circle cx="393.75" cy="925.94" r="3.5" fill="#ff8719"/>
<circle cx="411.25" cy="993.06" r="3.5" fill="#ff8719"/>
<circle cx="428.75" cy="939.87" r="3.5" fill="#ff8719"/>
<circle cx="446.25" cy="939.87" r="3.5" fill="#ff8719"/>
<circle cx="463.75" cy="939.87" r="3.5" fill="#ff8719"/>
<circle cx="481.25" cy="939.87" r="3.5" fill="#ff8719"/>
<circle cx="498.75" cy="959.5" r="3.5" fill="#ff8719"/>
<circle cx="516.25" cy="993.06" r="3.5" fill="#ff8719"/>
<circle cx="533.75" cy="959.5" r="3.5" fill="#ff8719"/>
<circle cx="551.25" cy="959.5" r="3.5" fill="#ff8719"/>
<circle cx="568.75" cy="959.5" r="3.5" fill="#ff8719"/>
<circle cx="586.25" cy="959.5" r="3.5" fill="#ff8719"/>
<circle cx="603.75" cy="1017.8" r="3.5" fill="#ff8719"/>
<circle cx="621.25" cy="939.87" r="3.5" fill="#ff8719"/>
<circle cx="638.75" cy="993.06" r="3.5" fill="#ff8719"/>
<circle cx="656.25" cy="959.5" r="3.5" fill="#ff8719"/>
<circle cx="673.75" cy="959.5" r="3.5" fill="#ff8719"/>
<circle cx="691.25" cy="959.5" r="3.5" fill="#ff8719"/>
<circle cx="708.75" cy="1037.44" r="3.5" fill="#ff8719"/>
<circle cx="726.25" cy="993.06" r="3.5" fill="#ff8719"/>
<circle cx="743.75" cy="976.77" r="3.5" fill="#ff8719"/>
<polyline points="148.75,1037.44 166.25,1017.8 183.75,1017.8 201.25,1017.8 218.75,1003.87 236.25,1017.8 253.75,1017.8 271.25,1017.8 288.75,1003.87 306.25,1017.8 323.75,1017.8 341.25,1017.8 358.75,1003.87 376.25,1003.87 393.75,1017.8 411.25,1017.8 428.75,1017.8 446.25,1003.87 463.75,1003.87 481.25,1003.87 498.75,1003.87 516.25,1017.8 533.75,1026.63 551.25,1003.87 568.75,1017.8 586.25,1017.8 603.75,1003.87 621.25,1017.8 638.75,1017.8 656.25,1026.63 673.75,1017.8 691.25,1026.63 708.75,1037.44 726.25,1026.63 743.75,1026.63" fill="none" stroke="#c30000" stroke-width="3.6" stroke-linejoin="round"/>
<circle cx="148.75" cy="1037.44" r="3.6" fill="#c30000"/>
<circle cx="166.25" cy="1017.8" r="3.6" fill="#c30000"/>
<circle cx="183.75" cy="1017.8" r="3.6" fill="#c30000"/>
<circle cx="201.25" cy="1017.8" r="3.6" fill="#c30000"/>
<circle cx="218.75" cy="1003.87" r="3.6" fill="#c30000"/>
<circle cx="236.25" cy="1017.8" r="3.6" fill="#c30000"/>
<circle cx="253.75" cy="1017.8" r="3.6" fill="#c30000"/>
<circle cx="271.25" cy="1017.8" r="3.6" fill="#c30000"/>
<circle cx="288.75" cy="1003.87" r="3.6" fill="#c30000"/>
<circle cx="306.25" cy="1017.8" r="3.6" fill="#c30000"/>
<circle cx="323.75" cy="1017.8" r="3.6" fill="#c30000"/>
<circle cx="341.25" cy="1017.8" r="3.6" fill="#c30000"/>
<circle cx="358.75" cy="1003.87" r="3.6" fill="#c30000"/>
<circle cx="376.25" cy="1003.87" r="3.6" fill="#c30000"/>
<circle cx="393.75" cy="1017.8" r="3.6" fill="#c30000"/>
<circle cx="411.25" cy="1017.8" r="3.6" fill="#c30000"/>
<circle cx="428.75" cy="1017.8" r="3.6" fill="#c30000"/>
<circle cx="446.25" cy="1003.87" r="3.6" fill="#c30000"/>
<circle cx="463.75" cy="1003.87" r="3.6" fill="#c30000"/>
<circle cx="481.25" cy="1003.87" r="3.6" fill="#c30000"/>
<circle cx="498.75" cy="1003.87" r="3.6" fill="#c30000"/>
<circle cx="516.25" cy="1017.8" r="3.6" fill="#c30000"/>
<circle cx="533.75" cy="1026.63" r="3.6" fill="#c30000"/>
<circle cx="551.25" cy="1003.87" r="3.6" fill="#c30000"/>
<circle cx="568.75" cy="1017.8" r="3.6" fill="#c30000"/>
<circle cx="586.25" cy="1017.8" r="3.6" fill="#c30000"/>
<circle cx="603.75" cy="1003.87" r="3.6" fill="#c30000"/>
<circle cx="621.25" cy="1017.8" r="3.6" fill="#c30000"/>
<circle cx="638.75" cy="1017.8" r="3.6" fill="#c30000"/>
<circle cx="656.25" cy="1026.63" r="3.6" fill="#c30000"/>
<circle cx="673.75" cy="1017.8" r="3.6" fill="#c30000"/>
<circle cx="691.25" cy="1026.63" r="3.6" fill="#c30000"/>
<circle cx="708.75" cy="1037.44" r="3.6" fill="#c30000"/>
<circle cx="726.25" cy="1026.63" r="3.6" fill="#c30000"/>
<circle cx="743.75" cy="1026.63" r="3.6" fill="#c30000"/>
<polyline points="148.75,1095.74 166.25,1081.81 183.75,1071 201.25,1095.74 218.75,1081.81 236.25,1095.74 253.75,1095.74 271.25,1095.74 288.75,1095.74 306.25,1071 323.75,1081.81 341.25,1095.74 358.75,1095.74 376.25,1095.74 393.75,1081.81 411.25,1095.74 428.75,1081.81 446.25,1095.74 463.75,1095.74 481.25,1095.74 498.75,1081.81 516.25,1095.74 533.75,1081.81 551.25,1081.81 568.75,1071 586.25,1095.74 603.75,1095.74 621.25,1071 638.75,1104.56 656.25,1104.56 673.75,1104.56 691.25,1095.74 708.75,1104.56 726.25,1095.74 743.75,1095.74" fill="none" stroke="#007d14" stroke-width="3.4" stroke-linejoin="round"/>
<circle cx="148.75" cy="1095.74" r="3.5" fill="#007d14"/>
<circle cx="166.25" cy="1081.81" r="3.5" fill="#007d14"/>
<circle cx="183.75" cy="1071" r="3.5" fill="#007d14"/>
<circle cx="201.25" cy="1095.74" r="3.5" fill="#007d14"/>
<circle cx="218.75" cy="1081.81" r="3.5" fill="#007d14"/>
<circle cx="236.25" cy="1095.74" r="3.5" fill="#007d14"/>
<circle cx="253.75" cy="1095.74" r="3.5" fill="#007d14"/>
<circle cx="271.25" cy="1095.74" r="3.5" fill="#007d14"/>
<circle cx="288.75" cy="1095.74" r="3.5" fill="#007d14"/>
<circle cx="306.25" cy="1071" r="3.5" fill="#007d14"/>
<circle cx="323.75" cy="1081.81" r="3.5" fill="#007d14"/>
<circle cx="341.25" cy="1095.74" r="3.5" fill="#007d14"/>
<circle cx="358.75" cy="1095.74" r="3.5" fill="#007d14"/>
<circle cx="376.25" cy="1095.74" r="3.5" fill="#007d14"/>
<circle cx="393.75" cy="1081.81" r="3.5" fill="#007d14"/>
<circle cx="411.25" cy="1095.74" r="3.5" fill="#007d14"/>
<circle cx="428.75" cy="1081.81" r="3.5" fill="#007d14"/>
<circle cx="446.25" cy="1095.74" r="3.5" fill="#007d14"/>
<circle cx="463.75" cy="1095.74" r="3.5" fill="#007d14"/>
<circle cx="481.25" cy="1095.74" r="3.5" fill="#007d14"/>
<circle cx="498.75" cy="1081.81" r="3.5" fill="#007d14"/>
<circle cx="516.25" cy="1095.74" r="3.5" fill="#007d14"/>
<circle cx="533.75" cy="1081.81" r="3.5" fill="#007d14"/>
<circle cx="551.25" cy="1081.81" r="3.5" fill="#007d14"/>
<circle cx="568.75" cy="1071" r="3.5" fill="#007d14"/>
<circle cx="586.25" cy="1095.74" r="3.5" fill="#007d14"/>
<circle cx="603.75" cy="1095.74" r="3.5" fill="#007d14"/>
<circle cx="621.25" cy="1071" r="3.5" fill="#007d14"/>
<circle cx="638.75" cy="1104.56" r="3.5" fill="#007d14"/>
<circle cx="656.25" cy="1104.56" r="3.5" fill="#007d14"/>
<circle cx="673.75" cy="1104.56" r="3.5" fill="#007d14"/>
<circle cx="691.25" cy="1095.74" r="3.5" fill="#007d14"/>
<circle cx="708.75" cy="1104.56" r="3.5" fill="#007d14"/>
<circle cx="726.25" cy="1095.74" r="3.5" fill="#007d14"/>
<circle cx="743.75" cy="1095.74" r="3.5" fill="#007d14"/>
<polyline points="148.75,1162.87 166.25,1162.87 183.75,1162.87 201.25,1173.67 218.75,1173.67 236.25,1182.5 253.75,1173.67 271.25,1182.5 288.75,1173.67 306.25,1162.87 323.75,1162.87 341.25,1162.87 358.75,1173.67 376.25,1162.87 393.75,1162.87 411.25,1162.87 428.75,1162.87 446.25,1162.87 463.75,1182.5 481.25,1173.67 498.75,1162.87 516.25,1173.67 533.75,1173.67 551.25,1173.67 568.75,1162.87 586.25,1162.87 603.75,1162.87 621.25,1162.87 638.75,1173.67 656.25,1182.5 673.75,1193.31 691.25,1104.56 708.75,1173.67 726.25,1193.31 743.75,1182.5" fill="none" stroke="#0000cd" stroke-width="3.4" stroke-linejoin="round"/>
<circle cx="148.75" cy="1162.87" r="3.5" fill="#0000cd"/>
<circle cx="166.25" cy="1162.87" r="3.5" fill="#0000cd"/>
<circle cx="183.75" cy="1162.87" r="3.5" fill="#0000cd"/>
<circle cx="201.25" cy="1173.67" r="3.5" fill="#0000cd"/>
<circle cx="218.75" cy="1173.67" r="3.5" fill="#0000cd"/>
<circle cx="236.25" cy="1182.5" r="3.5" fill="#0000cd"/>
<circle cx="253.75" cy="1173.67" r="3.5" fill="#0000cd"/>
<circle cx="271.25" cy="1182.5" r="3.5" fill="#0000cd"/>
<circle cx="288.75" cy="1173.67" r="3.5" fill="#0000cd"/>
<circle cx="306.25" cy="1162.87" r="3.5" fill="#0000cd"/>
<circle cx="323.75" cy="1162.87" r="3.5" fill="#0000cd"/>
<circle cx="341.25" cy="1162.87" r="3.5" fill="#0000cd"/>
<circle cx="358.75" cy="1173.67" r="3.5" fill="#0000cd"/>
<circle cx="376.25" cy="1162.87" r="3.5" fill="#0000cd"/>
<circle cx="393.75" cy="1162.87" r="3.5" fill="#0000cd"/>
<circle cx="411.25" cy="1162.87" r="3.5" fill="#0000cd"/>
<circle cx="428.75" cy="1162.87" r="3.5" fill="#0000cd"/>
<circle cx="446.25" cy="1162.87" r="3.5" fill="#0000cd"/>
<circle cx="463.75" cy="1182.5" r="3.5" fill="#0000cd"/>
<circle cx="481.25" cy="1173.67" r="3.5" fill="#0000cd"/>
<circle cx="498.75" cy="1162.87" r="3.5" fill="#0000cd"/>
<circle cx="516.25" cy="1173.67" r="3.5" fill="#0000cd"/>
<circle cx="533.75" cy="1173.67" r="3.5" fill="#0000cd"/>
<circle cx="551.25" cy="1173.67" r="3.5" fill="#0000cd"/>
<circle cx="568.75" cy="1162.87" r="3.5" fill="#0000cd"/>
<circle cx="586.25" cy="1162.87" r="3.5" fill="#0000cd"/>
<circle cx="603.75" cy="1162.87" r="3.5" fill="#0000cd"/>
<circle cx="621.25" cy="1162.87" r="3.5" fill="#0000cd"/>
<circle cx="638.75" cy="1173.67" r="3.5" fill="#0000cd"/>
<circle cx="656.25" cy="1182.5" r="3.5" fill="#0000cd"/>
<circle cx="673.75" cy="1193.31" r="3.5" fill="#0000cd"/>
<circle cx="691.25" cy="1104.56" r="3.5" fill="#0000cd"/>
<circle cx="708.75" cy="1173.67" r="3.5" fill="#0000cd"/>
<circle cx="726.25" cy="1193.31" r="3.5" fill="#0000cd"/>
<circle cx="743.75" cy="1182.5" r="3.5" fill="#0000cd"/>
</g>
<text x="559.7" y="948.5" font-family="'Liberation Serif', 'Times New Roman', serif" font-size="35" fill="#f0640a" text-anchor="start" font-weight="normal" >10</text>
<text x="594.2" y="930.5" font-family="'Liberation Serif', 'Times New Roman', serif" font-size="23" fill="#f0640a" text-anchor="start" font-weight="normal" >0</text>
<text x="559.7" y="1059.5" font-family="'Liberation Serif', 'Times New Roman', serif" font-size="35" fill="#c30000" text-anchor="start" font-weight="normal" >10</text>
<text x="594.2" y="1041.5" font-family="'Liberation Serif', 'Times New Roman', serif" font-size="23" fill="#c30000" text-anchor="start" font-weight="normal" >-1</text>
<text x="559.7" y="1137.5" font-family="'Liberation Serif', 'Times New Roman', serif" font-size="35" fill="#007d14" text-anchor="start" font-weight="normal" >10</text>
<text x="594.2" y="1119.5" font-family="'Liberation Serif', 'Times New Roman', serif" font-size="23" fill="#007d14" text-anchor="start" font-weight="normal" >-2</text>
<text x="559.7" y="1208" font-family="'Liberation Serif', 'Times New Roman', serif" font-size="35" fill="#0000cd" text-anchor="start" font-weight="normal" >10</text>
<text x="594.2" y="1190" font-family="'Liberation Serif', 'Times New Roman', serif" font-size="23" fill="#0000cd" text-anchor="start" font-weight="normal" >-3</text>
<text x="559.7" y="1310.5" font-family="'Liberation Serif', 'Times New Roman', serif" font-size="35" fill="#00aaeb" text-anchor="start" font-weight="normal" >10</text>
<text x="594.2" y="1292.5" font-family="'Liberation Serif', 'Times New Roman', serif" font-size="23" fill="#00aaeb" text-anchor="start" font-weight="normal" >-4</text>
<text x="559.7" y="1363.5" font-family="'Liberation Serif', 'Times New Roman', serif" font-size="35" fill="#505050" text-anchor="start" font-weight="normal" >10</text>
<text x="594.2" y="1345.5" font-family="'Liberation Serif', 'Times New Roman', serif" font-size="23" fill="#505050" text-anchor="start" font-weight="normal" >-5</text>
<text x="559.7" y="1423" font-family="'Liberation Serif', 'Times New Roman', serif" font-size="35" fill="#505050" text-anchor="start" font-weight="normal" >10</text>
<text x="594.2" y="1405" font-family="'Liberation Serif', 'Times New Roman', serif" font-size="23" fill="#505050" text-anchor="start" font-weight="normal" >-6</text>
<text x="143" y="1505.2" font-family="'Liberation Serif', 'Times New Roman', serif" font-size="34" fill="#000" text-anchor="middle" font-weight="normal" >1</text>
<text x="174.7" y="1505.2" font-family="'Liberation Serif', 'Times New Roman', serif" font-size="34" fill="#000" text-anchor="middle" font-weight="normal" >2</text>
<text x="221.5" y="1505.2" font-family="'Liberation Serif', 'Times New Roman', serif" font-size="34" fill="#000" text-anchor="middle" font-weight="normal" >3</text>
<text x="278.5" y="1505.2" font-family="'Liberation Serif', 'Times New Roman', serif" font-size="34" fill="#000" text-anchor="middle" font-weight="normal" >4</text>
<text x="357.2" y="1505.2" font-family="'Liberation Serif', 'Times New Roman', serif" font-size="34" fill="#000" text-anchor="middle" font-weight="normal" >5</text>
<text x="455.3" y="1505.2" font-family="'Liberation Serif', 'Times New Roman', serif" font-size="34" fill="#000" text-anchor="middle" font-weight="normal" >I = 6</text>
<text x="568.5" y="1505.2" font-family="'Liberation Serif', 'Times New Roman', serif" font-size="34" fill="#000" text-anchor="middle" font-weight="normal" >7</text>
<text x="703.4" y="1505.2" font-family="'Liberation Serif', 'Times New Roman', serif" font-size="34" fill="#000" text-anchor="middle" font-weight="normal" >8</text>
<rect x="131.5" y="848.0" width="666.0" height="669.0" fill="none" stroke="#000" stroke-width="3"/>
<path d="M112.3 1517H131.5 M112.3 1405.5H131.5 M112.3 1294H131.5 M112.3 1182.5H131.5 M112.3 1071H131.5 M112.3 959.5H131.5 M112.3 848H131.5" stroke="#000" stroke-width="2.6"/>
<path d="M131.25 1517.0V1535.6 M148.75 1517.0V1527.3 M166.25 1517.0V1527.3 M183.75 1517.0V1527.3 M201.25 1517.0V1527.3 M218.75 1517.0V1535.6 M236.25 1517.0V1527.3 M253.75 1517.0V1527.3 M271.25 1517.0V1527.3 M288.75 1517.0V1527.3 M306.25 1517.0V1535.6 M323.75 1517.0V1527.3 M341.25 1517.0V1527.3 M358.75 1517.0V1527.3 M376.25 1517.0V1527.3 M393.75 1517.0V1535.6 M411.25 1517.0V1527.3 M428.75 1517.0V1527.3 M446.25 1517.0V1527.3 M463.75 1517.0V1527.3 M481.25 1517.0V1535.6 M498.75 1517.0V1527.3 M516.25 1517.0V1527.3 M533.75 1517.0V1527.3 M551.25 1517.0V1527.3 M568.75 1517.0V1535.6 M586.25 1517.0V1527.3 M603.75 1517.0V1527.3 M621.25 1517.0V1527.3 M638.75 1517.0V1527.3 M656.25 1517.0V1535.6 M673.75 1517.0V1527.3 M691.25 1517.0V1527.3 M708.75 1517.0V1527.3 M726.25 1517.0V1527.3 M743.75 1517.0V1535.6 M761.25 1517.0V1527.3 M778.75 1517.0V1527.3" stroke="#000" stroke-width="2.6"/>
<text x="51.5" y="1534.7" font-family="'Liberation Serif', 'Times New Roman', serif" font-size="35" fill="#000" text-anchor="start" font-weight="normal" >10</text>
<text x="85.8" y="1516.2" font-family="'Liberation Serif', 'Times New Roman', serif" font-size="24" fill="#000" text-anchor="start" font-weight="normal" >-9</text>
<text x="51.5" y="1423.2" font-family="'Liberation Serif', 'Times New Roman', serif" font-size="35" fill="#000" text-anchor="start" font-weight="normal" >10</text>
<text x="85.8" y="1404.7" font-family="'Liberation Serif', 'Times New Roman', serif" font-size="24" fill="#000" text-anchor="start" font-weight="normal" >-8</text>
<text x="51.5" y="1311.7" font-family="'Liberation Serif', 'Times New Roman', serif" font-size="35" fill="#000" text-anchor="start" font-weight="normal" >10</text>
<text x="85.8" y="1293.2" font-family="'Liberation Serif', 'Times New Roman', serif" font-size="24" fill="#000" text-anchor="start" font-weight="normal" >-7</text>
<text x="51.5" y="1200.2" font-family="'Liberation Serif', 'Times New Roman', serif" font-size="35" fill="#000" text-anchor="start" font-weight="normal" >10</text>
<text x="85.8" y="1181.7" font-family="'Liberation Serif', 'Times New Roman', serif" font-size="24" fill="#000" text-anchor="start" font-weight="normal" >-6</text>
<text x="51.5" y="1088.7" font-family="'Liberation Serif', 'Times New Roman', serif" font-size="35" fill="#000" text-anchor="start" font-weight="normal" >10</text>
<text x="85.8" y="1070.2" font-family="'Liberation Serif', 'Times New Roman', serif" font-size="24" fill="#000" text-anchor="start" font-weight="normal" >-5</text>
<text x="51.5" y="977.2" font-family="'Liberation Serif', 'Times New Roman', serif" font-size="35" fill="#000" text-anchor="start" font-weight="normal" >10</text>
<text x="85.8" y="958.7" font-family="'Liberation Serif', 'Times New Roman', serif" font-size="24" fill="#000" text-anchor="start" font-weight="normal" >-4</text>
<text x="51.5" y="865.7" font-family="'Liberation Serif', 'Times New Roman', serif" font-size="35" fill="#000" text-anchor="start" font-weight="normal" >10</text>
<text x="85.8" y="847.2" font-family="'Liberation Serif', 'Times New Roman', serif" font-size="24" fill="#000" text-anchor="start" font-weight="normal" >-3</text>
<text x="131.25" y="1579.3" font-family="'Liberation Serif', 'Times New Roman', serif" font-size="36" fill="#000" text-anchor="middle" font-weight="normal" >0</text>
<text x="218.75" y="1579.3" font-family="'Liberation Serif', 'Times New Roman', serif" font-size="36" fill="#000" text-anchor="middle" font-weight="normal" >5</text>
<text x="306.25" y="1579.3" font-family="'Liberation Serif', 'Times New Roman', serif" font-size="36" fill="#000" text-anchor="middle" font-weight="normal" >10</text>
<text x="393.75" y="1579.3" font-family="'Liberation Serif', 'Times New Roman', serif" font-size="36" fill="#000" text-anchor="middle" font-weight="normal" >15</text>
<text x="481.25" y="1579.3" font-family="'Liberation Serif', 'Times New Roman', serif" font-size="36" fill="#000" text-anchor="middle" font-weight="normal" >20</text>
<text x="568.75" y="1579.3" font-family="'Liberation Serif', 'Times New Roman', serif" font-size="36" fill="#000" text-anchor="middle" font-weight="normal" >25</text>
<text x="656.25" y="1579.3" font-family="'Liberation Serif', 'Times New Roman', serif" font-size="36" fill="#000" text-anchor="middle" font-weight="normal" >30</text>
<text x="743.75" y="1579.3" font-family="'Liberation Serif', 'Times New Roman', serif" font-size="36" fill="#000" text-anchor="middle" font-weight="normal" >35</text>
<text x="164.5" y="901" font-family="'Liberation Serif', 'Times New Roman', serif" font-size="53" fill="#000" text-anchor="middle" font-weight="bold" >b)</text>
<text x="406.4 426.7 449.05 469.4 480.2" y="892.5" font-family="'Liberation Serif', 'Times New Roman', serif" font-size="42" fill="#000">x=0.1</text>
<text transform="translate(461.5,1634.5) scale(0.985,1)" text-anchor="middle" font-family="'Liberation Serif', 'Times New Roman', serif" font-size="41.6" font-weight="bold" fill="#000">Combination Number</text>
<text transform="translate(29.3,1498.3) rotate(-90)" font-family="'Liberation Serif', 'Times New Roman', serif" font-size="41.4" font-weight="bold" fill="#000">Max Noise before Artefacts, N<tspan font-size="24" dy="20">th</tspan><tspan dy="-20"> (V)</tspan></text>
</g>
</svg></body></html>
